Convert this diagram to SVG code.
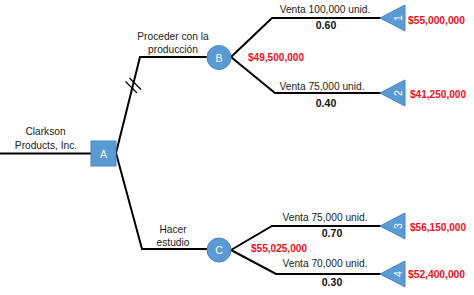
<svg xmlns="http://www.w3.org/2000/svg" width="474" height="295" viewBox="0 0 474 295">
<style>
.ln{fill:none;stroke:#000;stroke-width:2;stroke-linejoin:miter}
.nd{fill:#5B9BD5;stroke:#4A86C0;stroke-width:1}
.t{font-family:"Liberation Sans",Arial,sans-serif;font-size:10.2px;fill:#222;text-anchor:middle}
.b{font-family:"Liberation Sans",Arial,sans-serif;font-size:10.5px;font-weight:bold;fill:#111;text-anchor:middle}
.r{font-family:"Liberation Sans",Arial,sans-serif;font-size:10.5px;font-weight:bold;fill:#F0101E}
.w{font-family:"Liberation Sans",Arial,sans-serif;font-size:10.5px;fill:#fff;text-anchor:middle}
</style>
<rect width="474" height="295" fill="#fff"/>
<g id="connectors">
<path class="ln" d="M0,153.5 H91"/>
<path class="ln" d="M116,153 L140,57 H207"/>
<path class="ln" d="M116,153 L142,249 H207"/>
<path class="ln" d="M231,57 L272,18 H381"/>
<path class="ln" d="M231,57 L275,93 H381"/>
<path class="ln" d="M231,250 L272,226 H381"/>
<path class="ln" d="M231,250 L276,274 H381"/>
<path fill="none" stroke="#000" stroke-width="1.2" d="M125.5,81.5 L137,93 M129.5,78 L141,89.5"/>
</g>
<g id="nodeA">
<rect class="nd" x="91" y="141" width="25" height="25"/>
<text class="w" x="103.5" y="157.5">A</text>
<text class="t" x="45.5" y="135">Clarkson</text>
<text class="t" x="46" y="149">Products, Inc.</text>
</g>
<g id="nodeB">
<circle class="nd" cx="219" cy="57.5" r="12"/>
<text class="w" x="219" y="61.5">B</text>
<text class="t" x="173" y="40">Proceder con la</text>
<text class="t" x="173" y="53">producción</text>
<text class="r" x="248" y="61" textLength="56" lengthAdjust="spacingAndGlyphs">$49,500,000</text>
</g>
<g id="nodeC">
<circle class="nd" cx="219" cy="250" r="12"/>
<text class="w" x="219" y="254">C</text>
<text class="t" x="173" y="233">Hacer</text>
<text class="t" x="173" y="246">estudio</text>
<text class="r" x="251" y="252" textLength="56" lengthAdjust="spacingAndGlyphs">$55,025,000</text>
</g>
<g id="end1">
<polygon class="nd" points="380,18 405,5 405,31"/>
<text class="w" transform="translate(401.5,18) rotate(-90)">1</text>
<text class="t" x="325" y="13">Venta 100,000 unid.</text>
<text class="b" x="326" y="29">0.60</text>
<text class="r" x="408" y="23.5" textLength="57" lengthAdjust="spacingAndGlyphs">$55,000,000</text>
</g>
<g id="end2">
<polygon class="nd" points="380,93 405,80 405,106"/>
<text class="w" transform="translate(401.5,93) rotate(-90)">2</text>
<text class="t" x="322" y="90">Venta 75,000 unid.</text>
<text class="b" x="326" y="107">0.40</text>
<text class="r" x="410" y="97.5" textLength="56" lengthAdjust="spacingAndGlyphs">$41,250,000</text>
</g>
<g id="end3">
<polygon class="nd" points="380,226 405,213 405,239"/>
<text class="w" transform="translate(401.5,226) rotate(-90)">3</text>
<text class="t" x="325" y="221">Venta 75,000 unid.</text>
<text class="b" x="332" y="237">0.70</text>
<text class="r" x="410" y="230.5" textLength="56" lengthAdjust="spacingAndGlyphs">$56,150,000</text>
</g>
<g id="end4">
<polygon class="nd" points="380,274 405,261 405,287"/>
<text class="w" transform="translate(401.5,274) rotate(-90)">4</text>
<text class="t" x="325" y="267">Venta 70,000 unid.</text>
<text class="b" x="332" y="286">0.30</text>
<text class="r" x="408" y="277.5" textLength="57" lengthAdjust="spacingAndGlyphs">$52,400,000</text>
</g>
</svg>
